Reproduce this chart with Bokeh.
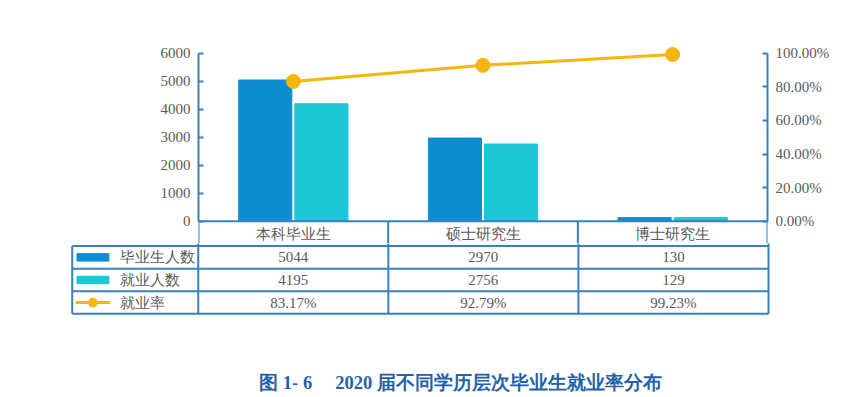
from bokeh.plotting import figure
from bokeh.models import Range1d, LinearAxis, FixedTicker, PrintfTickFormatter
from bokeh.core.properties import value
from bokeh.embed import file_html
from bokeh.resources import INLINE

# ---------------- data ----------------
categories = ["本科毕业生", "硕士研究生", "博士研究生"]
graduates = [5044, 2970, 130]
employed = [4195, 2756, 129]
rate = [83.17, 92.79, 99.23]
series_names = ["毕业生人数", "就业人数", "就业率"]
count_ticks = [0, 1000, 2000, 3000, 4000, 5000, 6000]
rate_ticks = [0, 20, 40, 60, 80, 100]
caption = "图 1- 6\u2003\u00a02020 届不同学历层次毕业生就业率分布"

# ---------------- style ----------------
C_GRAD = "#0c8fd2"
C_EMP = "#1cc8d7"
C_RATE = "#f5b50c"
C_AXIS = "#3a7fc2"
C_TEXT = "#5a5a5a"
C_CAP = "#2362a8"
FONT = "Liberation Serif"
FS = "15px"

W = 836
n = len(categories)
centers = [i + 0.5 for i in range(n)]
bw = 0.28
off = 0.148

# ---------------- chart (with the category row of the table) ----------------
p = figure(width=W, height=243, output_backend="svg", toolbar_location=None,
           x_range=Range1d(0, n), y_range=Range1d(-796, 6311),
           x_axis_location=None, min_border_left=198, min_border_right=69,
           min_border_top=44, min_border_bottom=0)
p.outline_line_color = None
p.grid.visible = False

p.vbar(x=[c - off for c in centers], top=graduates, width=bw, color=C_GRAD)
p.vbar(x=[c + off for c in centers], top=employed, width=bw, color=C_EMP)

p.extra_y_ranges = {"pct": Range1d(-13.27, 105.18)}
p.line(x=centers, y=rate, y_range_name="pct", line_color=C_RATE, line_width=3)
p.scatter(x=centers, y=rate, y_range_name="pct", size=14, fill_color=C_RATE,
          line_color=C_RATE)

# category row: baseline, separators, labels
vx = list(range(n + 1))
p.segment(x0=[0], y0=[0], x1=[n], y1=[0], line_color=C_AXIS, line_width=2)
p.segment(x0=vx, y0=[0] * len(vx), x1=vx, y1=[-1000] * len(vx),
          line_color=C_AXIS, line_width=2)
p.text(x=centers, y=[-444] * n, text=categories,
       text_align="center", text_baseline="middle", text_color=C_TEXT,
       text_font=value(FONT), text_font_size=FS)

ya = p.yaxis[0]
ya.bounds = (0, 6000)
ya.ticker = FixedTicker(ticks=count_ticks)

ra = LinearAxis(y_range_name="pct", bounds=(0, 100),
                ticker=FixedTicker(ticks=rate_ticks),
                formatter=PrintfTickFormatter(format="%.2f%%"))
p.add_layout(ra, "right")

for ax in (ya, ra):
    ax.axis_line_color = C_AXIS
    ax.axis_line_width = 2
    ax.major_tick_line_color = C_AXIS
    ax.major_tick_line_width = 2
    ax.major_tick_in = 5
    ax.major_tick_out = 0
    ax.minor_tick_line_color = None
    ax.major_label_text_color = C_TEXT
    ax.major_label_text_font = FONT
    ax.major_label_text_font_size = FS
    ax.major_label_standoff = 8

# ---------------- table body ----------------
t = figure(width=W, height=152, output_backend="svg", toolbar_location=None,
           x_range=Range1d(-0.672, 3.0105), y_range=Range1d(-7.712, -0.987),
           x_axis_location=None, y_axis_location=None,
           min_border_left=70, min_border_right=66, min_border_top=0,
           min_border_bottom=0)
t.outline_line_color = None
t.grid.visible = False

row_lines = [-1.1, -2.1, -3.1, -4.1]
leg_left = -0.663
row_centers = [(row_lines[k] + row_lines[k + 1]) / 2 for k in range(3)]

t.segment(x0=[leg_left] * 4, y0=row_lines, x1=[n] * 4, y1=row_lines,
          line_color=C_AXIS, line_width=2)
t.segment(x0=vx, y0=[-0.5] * len(vx), x1=vx, y1=[-4.1] * len(vx),
          line_color=C_AXIS, line_width=2)
t.segment(x0=[leg_left], y0=[-1.1], x1=[leg_left], y1=[-4.1],
          line_color=C_AXIS, line_width=2)

rows = [
    [str(v) for v in graduates],
    [str(v) for v in employed],
    [f"{v:.2f}%" for v in rate],
]
for r, vals in enumerate(rows):
    t.text(x=centers, y=[row_centers[r]] * n, text=vals,
           text_align="center", text_baseline="middle", text_color=C_TEXT,
           text_font=value(FONT), text_font_size=FS)

# legend keys
kx = -0.554
t.rect(x=[kx, kx], y=row_centers[0:2], width=0.168, height=0.33,
       color=[C_GRAD, C_EMP])
t.segment(x0=[kx - 0.09], y0=[row_centers[2]], x1=[kx + 0.09],
          y1=[row_centers[2]], line_color=C_RATE, line_width=3)
t.scatter(x=[kx], y=[row_centers[2]], size=9, fill_color=C_RATE,
          line_color=C_RATE)
t.text(x=[-0.413] * 3, y=row_centers, text=series_names,
       text_align="left", text_baseline="middle", text_color=C_TEXT,
       text_font=value(FONT), text_font_size=FS)

# caption
t.text(x=[1.38], y=[-7.137], text=[caption], text_align="center",
       text_baseline="middle", text_color=C_CAP,
       text_font=value(FONT), text_font_size="18.5px", text_font_style="bold")

open("out.html", "w").write(file_html([p, t], INLINE))
